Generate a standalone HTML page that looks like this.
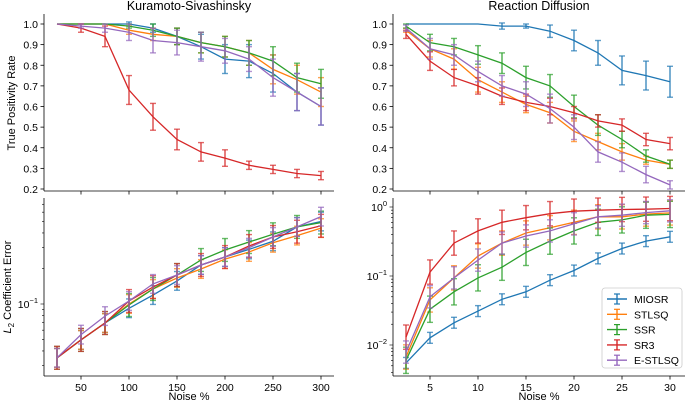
<!DOCTYPE html>
<html><head><meta charset="utf-8"><style>
body{margin:0;background:#fff}
svg{display:block;font-family:"Liberation Sans","DejaVu Sans",sans-serif}
</style></head><body>
<svg id="fig" width="685" height="404" viewBox="0 0 685 404"></svg>
<script>
const series = ['MIOSR','STLSQ','SSR','SR3','E-STLSQ'];
const colors = ['#1f77b4','#ff7f0e','#2ca02c','#d62728','#9467bd'];
const ksNoise = [25,50,75,100,125,150,175,200,225,250,275,300];
const rdNoise = [2.5,5,7.5,10,12.5,15,17.5,20,22.5,25,27.5,30];
const ksTpr = [
 [1,1,1,1,.98,.94,.89,.83,.82,.76,.67,.60],
 [1,1,1,.97,.95,.94,.91,.89,.86,.78,.73,.67],
 [1,1,1,.99,.97,.94,.91,.89,.86,.82,.74,.71],
 [1,.98,.94,.68,.55,.44,.38,.35,.315,.295,.275,.265],
 [1,.99,.98,.96,.92,.91,.89,.87,.83,.74,.67,.60]];
const ksTprErr = [
 [0,0,0,.01,.02,.04,.06,.07,.08,.09,.09,.09],
 [0,0,0,.02,.03,.04,.05,.05,.06,.07,.07,.07],
 [0,0,0,.01,.03,.04,.05,.05,.06,.07,.07,.07],
 [0,.02,.05,.07,.065,.05,.045,.04,.02,.02,.02,.02],
 [0,.01,.02,.04,.06,.06,.07,.06,.06,.09,.09,.09]];
const rdTpr = [
 [1,1,1,1,.99,.99,.965,.92,.86,.775,.75,.72],
 [.97,.88,.83,.73,.67,.61,.57,.48,.43,.38,.34,.32],
 [.99,.91,.89,.85,.81,.74,.70,.60,.51,.44,.36,.32],
 [.95,.82,.74,.70,.65,.62,.60,.57,.53,.51,.44,.42],
 [.98,.88,.85,.77,.70,.66,.59,.50,.38,.33,.27,.22]];
const rdTprErr = [
 [0,0,0,0,.015,.01,.03,.05,.06,.07,.07,.075],
 [.01,.04,.05,.06,.05,.04,.05,.05,.04,.04,.02,.02],
 [.01,.04,.04,.045,.05,.055,.055,.055,.05,.04,.03,.02],
 [.02,.045,.04,.04,.04,.04,.04,.03,.03,.03,.03,.03],
 [.015,.05,.05,.05,.05,.06,.07,.06,.05,.045,.04,.02]];
const ksL2 = [
 [.035,.0496,.069,.092,.119,.157,.214,.25,.29,.34,.45,.50],
 [.035,.0496,.069,.10,.134,.166,.198,.24,.276,.33,.38,.44],
 [.035,.0496,.069,.098,.134,.176,.236,.287,.335,.39,.45,.49],
 [.035,.0496,.069,.106,.139,.176,.214,.25,.31,.37,.41,.46],
 [.035,.055,.079,.106,.148,.176,.214,.25,.30,.37,.45,.55]];
const rdL2 = [
 [.0055,.0127,.021,.031,.046,.059,.087,.12,.18,.25,.32,.37],
 [.0067,.045,.094,.195,.30,.42,.50,.60,.72,.72,.79,.82],
 [.006,.033,.059,.094,.134,.22,.32,.45,.60,.65,.76,.78],
 [.013,.114,.30,.45,.60,.70,.80,.87,.90,.92,.93,.95],
 [.0079,.05,.094,.17,.30,.38,.45,.57,.72,.76,.83,.88]];
const ksL2Ratio = [1.2,1.2,1.25,1.25,1.2];
const rdL2Ratio = [1.2,1.5,1.55,1.5,1.45];

const NS='http://www.w3.org/2000/svg';
const svg=document.getElementById('fig');
function el(t,a,p){const e=document.createElementNS(NS,t);for(const k in a)e.setAttribute(k,a[k]);(p||svg).appendChild(e);return e;}
function txt(s,a,p){const e=el('text',a,p);e.textContent=s;return e;}

const ksX=v=>57+(v-25)*0.96;
const rdX=v=>406+(v-2.5)*9.6;
const panels=[
 {name:'ks-tpr',xs:ksX,ys:v=>189-(v-0.2)*206.25,L:44,R:334,T:14,B:191,xt:[50,100,150,200,250,300],xl:false,xd:ksNoise,yd:ksTpr,err:ksTprErr,log:false},
 {name:'rd-tpr',xs:rdX,ys:v=>189-(v-0.2)*206.25,L:393,R:685,T:14,B:191,xt:[5,10,15,20,25,30],xl:false,xd:rdNoise,yd:rdTpr,err:rdTprErr,log:false},
 {name:'ks-l2',xs:ksX,ys:v=>304-118*Math.log10(v/0.1),L:44,R:334,T:198,B:376,xt:[50,100,150,200,250,300],xl:true,xd:ksNoise,yd:ksL2,ratio:ksL2Ratio,log:true,dec:[-1]},
 {name:'rd-l2',xs:rdX,ys:v=>276-69*Math.log10(v/0.1),L:393,R:685,T:198,B:376,xt:[5,10,15,20,25,30],xl:true,xd:rdNoise,yd:rdL2,ratio:rdL2Ratio,log:true,dec:[-2,-1,0]}
];
panels.forEach(P=>{
 const g=el('g',{});
 
 
 el('line',{x1:P.L,y1:P.T,x2:P.L,y2:P.B,stroke:'#000','stroke-width':0.8},g);
 el('line',{x1:P.L,y1:P.B,x2:P.R,y2:P.B,stroke:'#000','stroke-width':0.8},g);
 P.xt.forEach(t=>{const x=P.xs(t);el('line',{x1:x,y1:P.B,x2:x,y2:P.B+3.5,stroke:'#000','stroke-width':0.8},g);
  if(P.xl){const tl=txt(String(t),{x:x,y:P.B+15,'font-size':10.5,'text-anchor':'middle',fill:'#000'},g);
   }});
 if(!P.log){[0.2,0.3,0.4,0.5,0.6,0.7,0.8,0.9,1.0].forEach(t=>{const y=P.ys(t);
  el('line',{x1:P.L-3.5,y1:y,x2:P.L,y2:y,stroke:'#000','stroke-width':0.8},g);
  const tl=txt(t.toFixed(1),{x:P.L-6,y:y+4,'font-size':10.5,'text-anchor':'end',fill:'#000'},g);
  });}
 else{
  for(let d=-3;d<=0;d++)for(let m=1;m<10;m++){const v=m*Math.pow(10,d);const y=P.ys(v);if(y<P.T||y>P.B)continue;
   el('line',{x1:P.L-(m==1?3.5:2),y1:y,x2:P.L,y2:y,stroke:'#000','stroke-width':0.6},g);}
  P.dec.forEach(d=>{const y=P.ys(Math.pow(10,d));const t=txt('10',{x:P.L-6,y:y+4,'font-size':10.5,'text-anchor':'end',fill:'#000'},g);
   const s=el('tspan',{dy:-5,'font-size':7.5},t);s.textContent=d==0?'0':'\u2212'+(-d);
   });
 }
 P.yd.forEach((vals,si)=>{
  const sg=el('g',{},g);
  
  
  vals.forEach((v,i)=>{const x=P.xs(P.xd[i]);let lo,hi;
   if(P.log){lo=v/P.ratio[si];hi=v*P.ratio[si];}else{lo=v-P.err[si][i];hi=v+P.err[si][i];}
   const y1=P.ys(lo),y2=P.ys(hi);
   if(Math.abs(y1-y2)<0.5)return;
   el('line',{x1:x,y1:y1,x2:x,y2:y2,stroke:colors[si],'stroke-width':1.4,opacity:0.85},sg);
   el('line',{x1:x-3,y1:y1,x2:x+3,y2:y1,stroke:colors[si],'stroke-width':1.4,opacity:0.7},sg);
   el('line',{x1:x-3,y1:y2,x2:x+3,y2:y2,stroke:colors[si],'stroke-width':1.4,opacity:0.7},sg);});
  const pts=vals.map((v,i)=>P.xs(P.xd[i]).toFixed(1)+','+P.ys(v).toFixed(1)).join(' ');
  const pl=el('polyline',{points:pts,fill:'none',stroke:colors[si],'stroke-width':1.3},sg);
  
  
 });
});
function label(s,a,name){const t=txt(s,a);return t;}
label('Kuramoto-Sivashinsky',{x:189,y:10,'font-size':12.5,'text-anchor':'middle'},'title-ks');
label('Reaction Diffusion',{x:539,y:10,'font-size':12.5,'text-anchor':'middle'},'title-rd');
label('Noise %',{x:189,y:400,'font-size':11,'text-anchor':'middle'},'x-axis-title-ks');
label('Noise %',{x:539,y:400,'font-size':11,'text-anchor':'middle'},'x-axis-title-rd');
label('True Positivity Rate',{x:0,y:0,'font-size':11,'text-anchor':'middle',transform:'translate(15,103) rotate(-90)'},'y-axis-title-tpr');
const yl=label('',{x:0,y:0,'font-size':11,'text-anchor':'middle',transform:'translate(11,287) rotate(-90)'},'y-axis-title-l2');
const ti=el('tspan',{'font-style':'italic'},yl);ti.textContent='L';
const ts=el('tspan',{dy:3,'font-size':8},yl);ts.textContent='2';
const tr=el('tspan',{dy:-3},yl);tr.textContent=' Coefficient Error';
// legend
const lg=el('g',{});


el('rect',{x:602,y:288,width:80,height:80,rx:3,fill:'#fff','fill-opacity':0.85,stroke:'#ccc','stroke-width':0.8},lg);
series.forEach((s,i)=>{const y=299+i*15.3;
 const e=el('g',{},lg);
 
 
 el('line',{x1:607,y1:y,x2:627,y2:y,stroke:colors[i],'stroke-width':1.4},e);
 el('line',{x1:617,y1:y-5,x2:617,y2:y+5,stroke:colors[i],'stroke-width':1.4},e);
 el('line',{x1:614,y1:y-5,x2:620,y2:y-5,stroke:colors[i],'stroke-width':1.2},e);
 el('line',{x1:614,y1:y+5,x2:620,y2:y+5,stroke:colors[i],'stroke-width':1.2},e);
 txt(s,{x:634,y:y+4,'font-size':10.5},e);});
</script>
</body></html>
